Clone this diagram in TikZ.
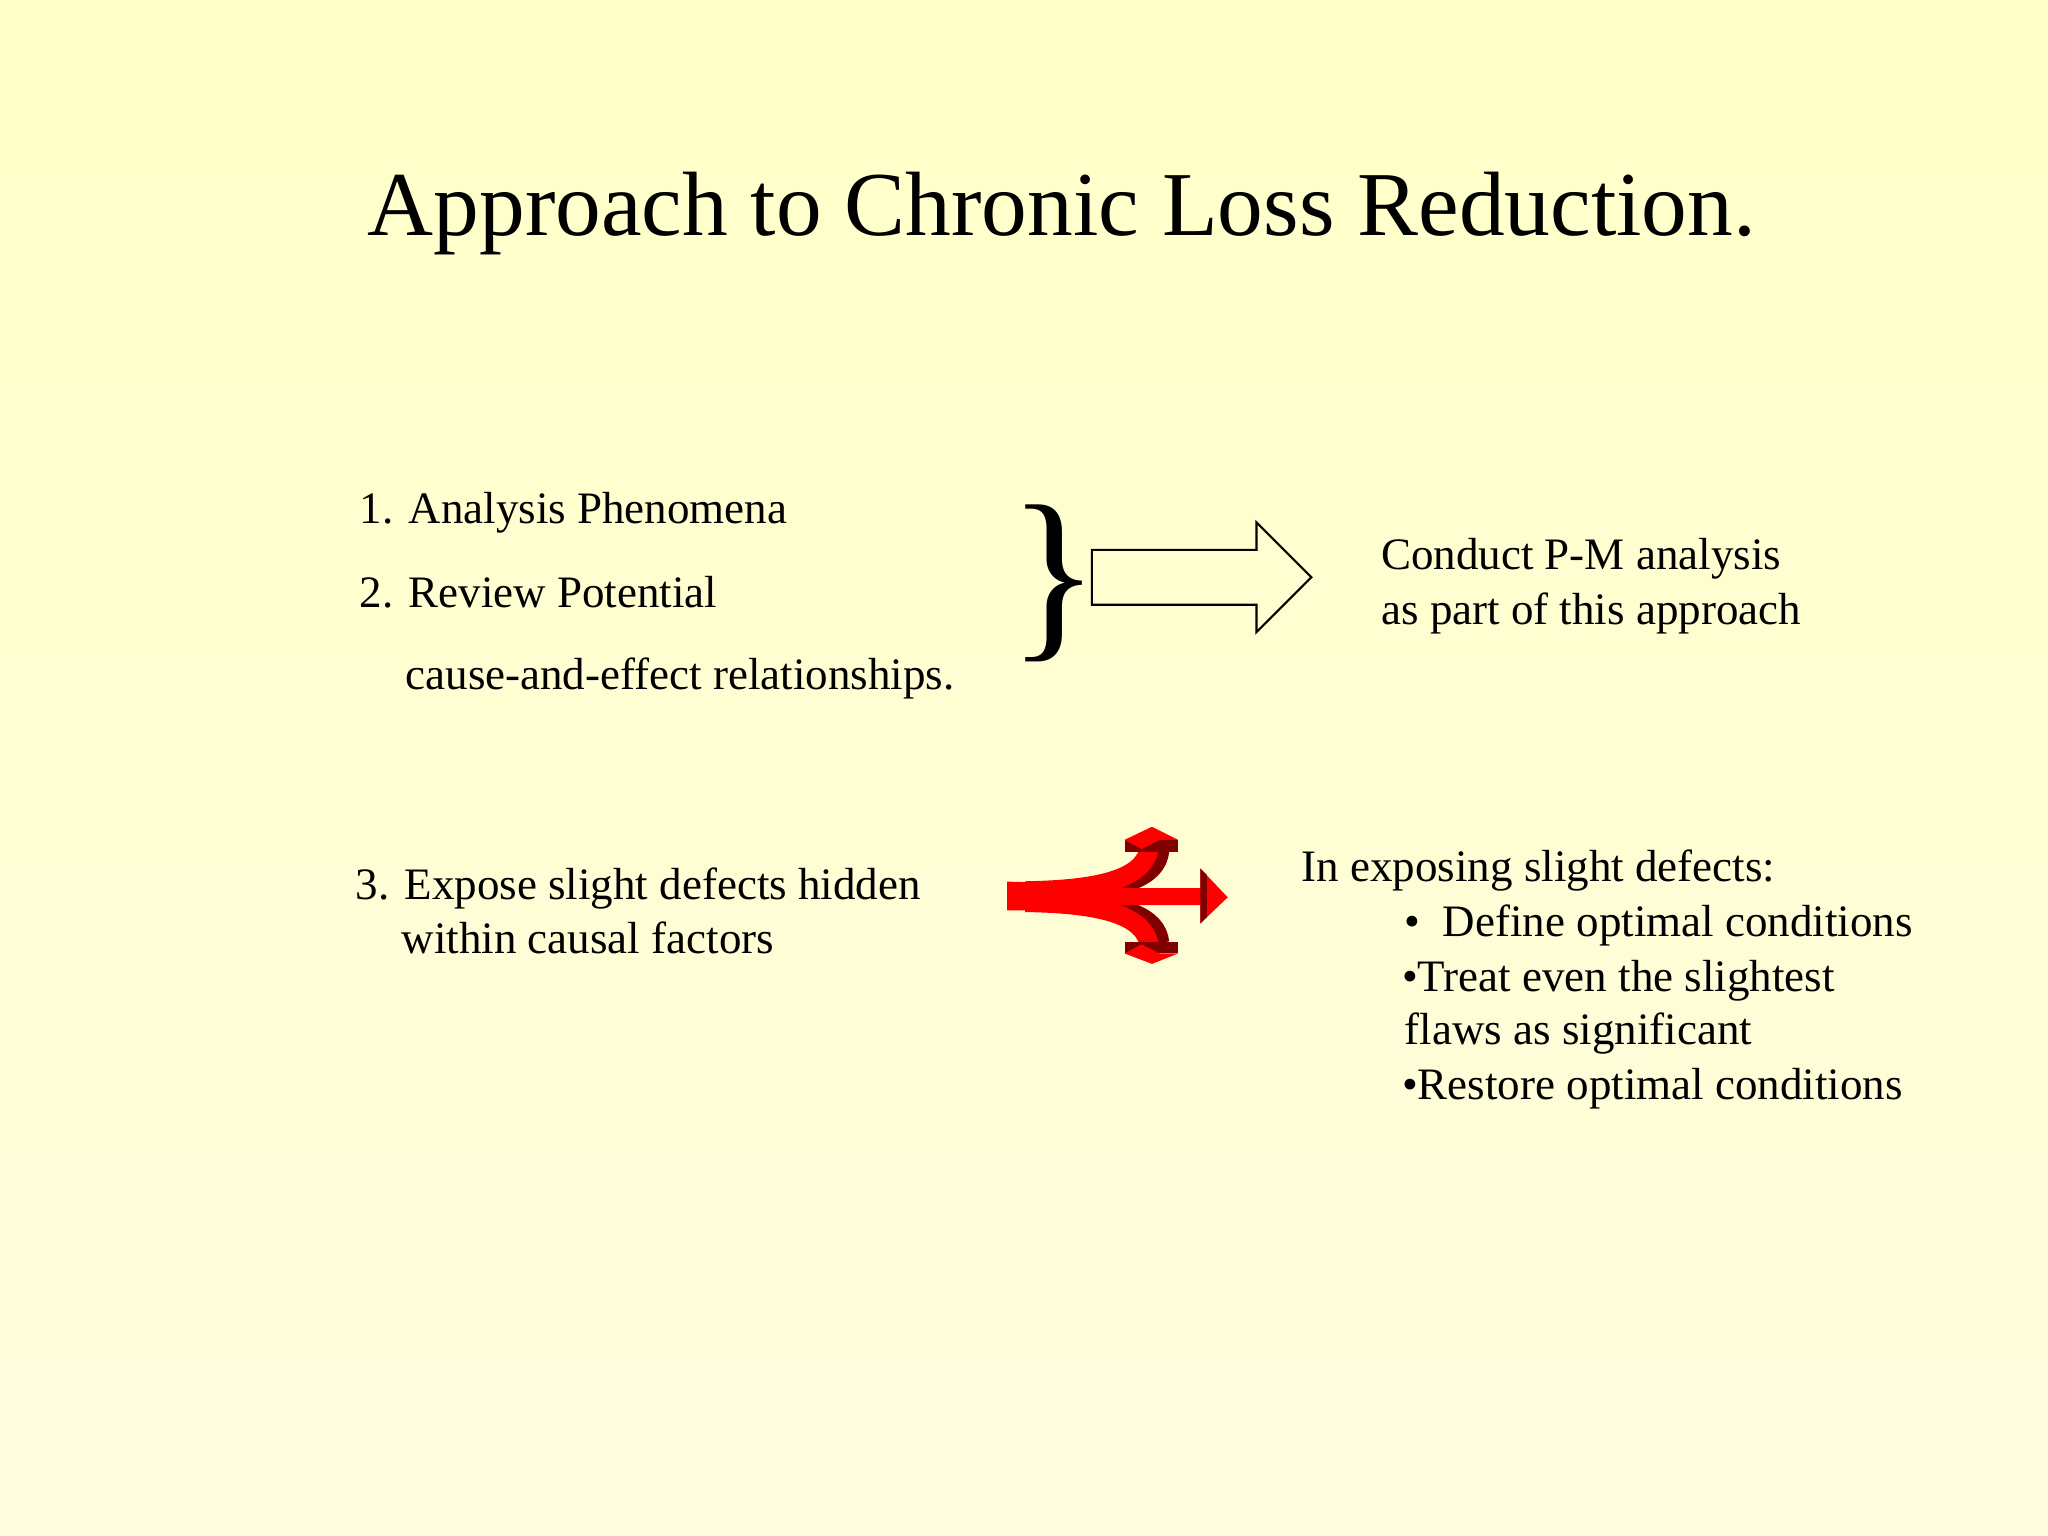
\documentclass[tikz,border=0pt]{standalone}
\usepackage{fontspec}
\setmainfont{Liberation Serif}
\usetikzlibrary{positioning,calc}
\definecolor{bgtop}{RGB}{255,255,200}
\definecolor{bgbot}{RGB}{254,252,222}
\definecolor{arrred}{RGB}{255,0,0}
\definecolor{arrdark}{RGB}{128,0,0}
\tikzset{
	txt/.style={anchor=base west, inner sep=0pt, font=\fontsize{12.8}{15}\selectfont},
	ttl/.style={anchor=base, inner sep=0pt, font=\fontsize{26}{30}\selectfont},
	branch/.style={line width=0.19cm},
}
\begin{document}
\begin{tikzpicture}[x=0.01306cm, y=-0.01306cm]
	%Background%
	%===========================================================
	\shade[top color=bgtop, middle color=white, bottom color=bgbot] (0,0) rectangle (1568,1176);
	\useasboundingbox (0,0) rectangle (1568,1176);
	%Title
	\node[ttl] (title) at (813,180) {Approach to Chronic Loss Reduction.};
	%Left list
	\node[txt] (one) at (275,401) {1. Analysis Phenomena};
	\node[txt] (two) at (275,465) {2. Review Potential};
	\node[txt] (cause) at (310,528) {cause-and-effect relationships.};
	\node[txt] (three) at (272,689) {3. Expose slight defects hidden};
	\node[txt] (within) at (307,730) {within causal factors};
	%Right texts
	\node[txt] (pm1) at (1057,436) {Conduct P-M analysis};
	\node[txt] (pm2) at (1057,478) {as part of this approach};
	\node[txt] (expo) at (996,675) {In exposing slight defects:};
	\node[txt] (b1) at (1075,717) {\textbullet\ \ Define optimal conditions};
	\node[txt] (b2) at (1073,759) {\textbullet Treat even the slightest};
	\node[txt] (b3) at (1075,800) {flaws as significant};
	\node[txt] (b4) at (1073,842) {\textbullet Restore optimal conditions};
	%Brace and hollow arrow
	\node[inner sep=0pt, font=\fontsize{54}{54}\selectfont] (brace) at (807,447) {\}};
	\draw[line width=0.6pt] (836,421) -- (962,421) -- (962,400) -- (1004,442)
		-- (962,484) -- (962,463) -- (836,463) -- cycle; %hollow arrow
	%Red splitting arrow
	\draw[arrdark, branch] (800,683) .. controls (860,682) and (886,672) .. (888,651); %upper shadow
	\draw[arrdark, branch] (800,690) .. controls (860,691) and (886,701) .. (888,722); %lower shadow
	\fill[arrred] (771,675) .. controls (810,676) .. (850,680) -- (919,680) -- (919,665) -- (940,687)
		-- (919,707) -- (919,693) -- (850,693) .. controls (810,697) .. (771,697) -- cycle; %stem
	\fill[arrdark] (919,665) -- (919,707) -- (924,702) -- (924,670) -- cycle;
	% upper branch
	\draw[arrred, branch] (785,682) .. controls (845,681) and (876,672) .. (880,649);
	\fill[arrdark] (861,643) rectangle (902,652);
	\fill[arrred] (861,643) -- (882,633) -- (902,643) -- (888,643) -- (874,650) -- cycle;
	% lower branch
	\draw[arrred, branch] (785,691) .. controls (845,692) and (876,701) .. (880,724);
	\fill[arrdark] (861,721) rectangle (902,730);
	\fill[arrred] (861,730) -- (882,738) -- (902,730) -- (888,730) -- (874,723) -- cycle;
\end{tikzpicture}
\end{document}
